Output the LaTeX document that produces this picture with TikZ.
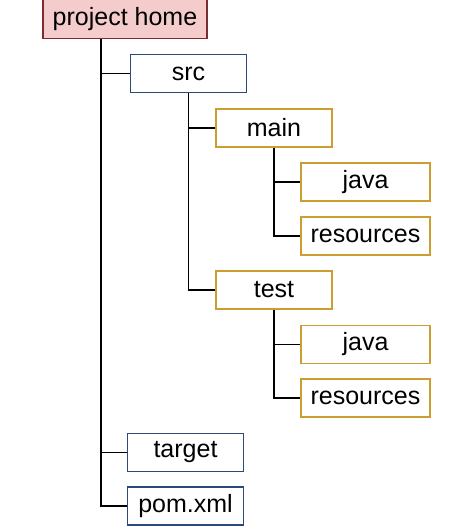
\documentclass[tikz,border=0pt]{standalone}
\usepackage{fontspec}
\setmainfont{Liberation Sans}
\definecolor{homefill}{HTML}{F4CCCC}
\definecolor{homeline}{HTML}{7A2E2E}
\definecolor{dirline}{HTML}{2B4A7A}
\definecolor{subline}{HTML}{CC9E32}
\tikzset{
  box/.style={draw, line width=1.7pt, fill=white, inner sep=0pt,
    font=\fontsize{25}{30}\selectfont, minimum height=38pt},
  homebox/.style={box, draw=homeline, fill=homefill, minimum width=164pt, minimum height=39pt},
  dirbox/.style={box, draw=dirline, minimum width=116pt},
  subbox/.style={box, draw=subline, minimum width=116pt},
  leafbox/.style={box, draw=subline, minimum width=129pt},
  branch/.style={line width=1.8pt}
}
\begin{document}
\begin{tikzpicture}[x=1pt,y=-1pt]
      \useasboundingbox[fill=white] (0,0) rectangle (474,527);

      % Draw folder boxes
      \node[homebox] (home) at (125,19) {project home};
      \node[dirbox] (src) at (188.5,73.5) {src};
      \node[subbox] (main) at (274,128) {main};
      \node[leafbox] (mainjava) at (365.5,182) {java};
      \node[leafbox] (mainres) at (365.5,236) {resources};
      \node[subbox] (test) at (274,290) {test};
      \node[leafbox] (testjava) at (365.5,344.5) {java};
      \node[leafbox] (testres) at (365.5,398) {resources};
      \node[dirbox] (target) at (185.5,452.5) {target};
      \node[dirbox] (pom) at (185.5,506) {pom.xml};

      % Draw tree lines
      \coordinate (hometrunk) at ([xshift=-24pt]home.south);
      \draw[branch] (hometrunk) |- (src.west);
      \draw[branch] (hometrunk) |- (target.west);
      \draw[branch] (hometrunk) |- (pom.west);

      \draw[branch] (src.south) |- (main.west);
      \draw[branch] (src.south) |- (test.west);

      \draw[branch] (main.south) |- (mainjava.west);
      \draw[branch] (main.south) |- (mainres.west);

      \draw[branch] (test.south) |- (testjava.west);
      \draw[branch] (test.south) |- (testres.west);

  \end{tikzpicture}
\end{document}
